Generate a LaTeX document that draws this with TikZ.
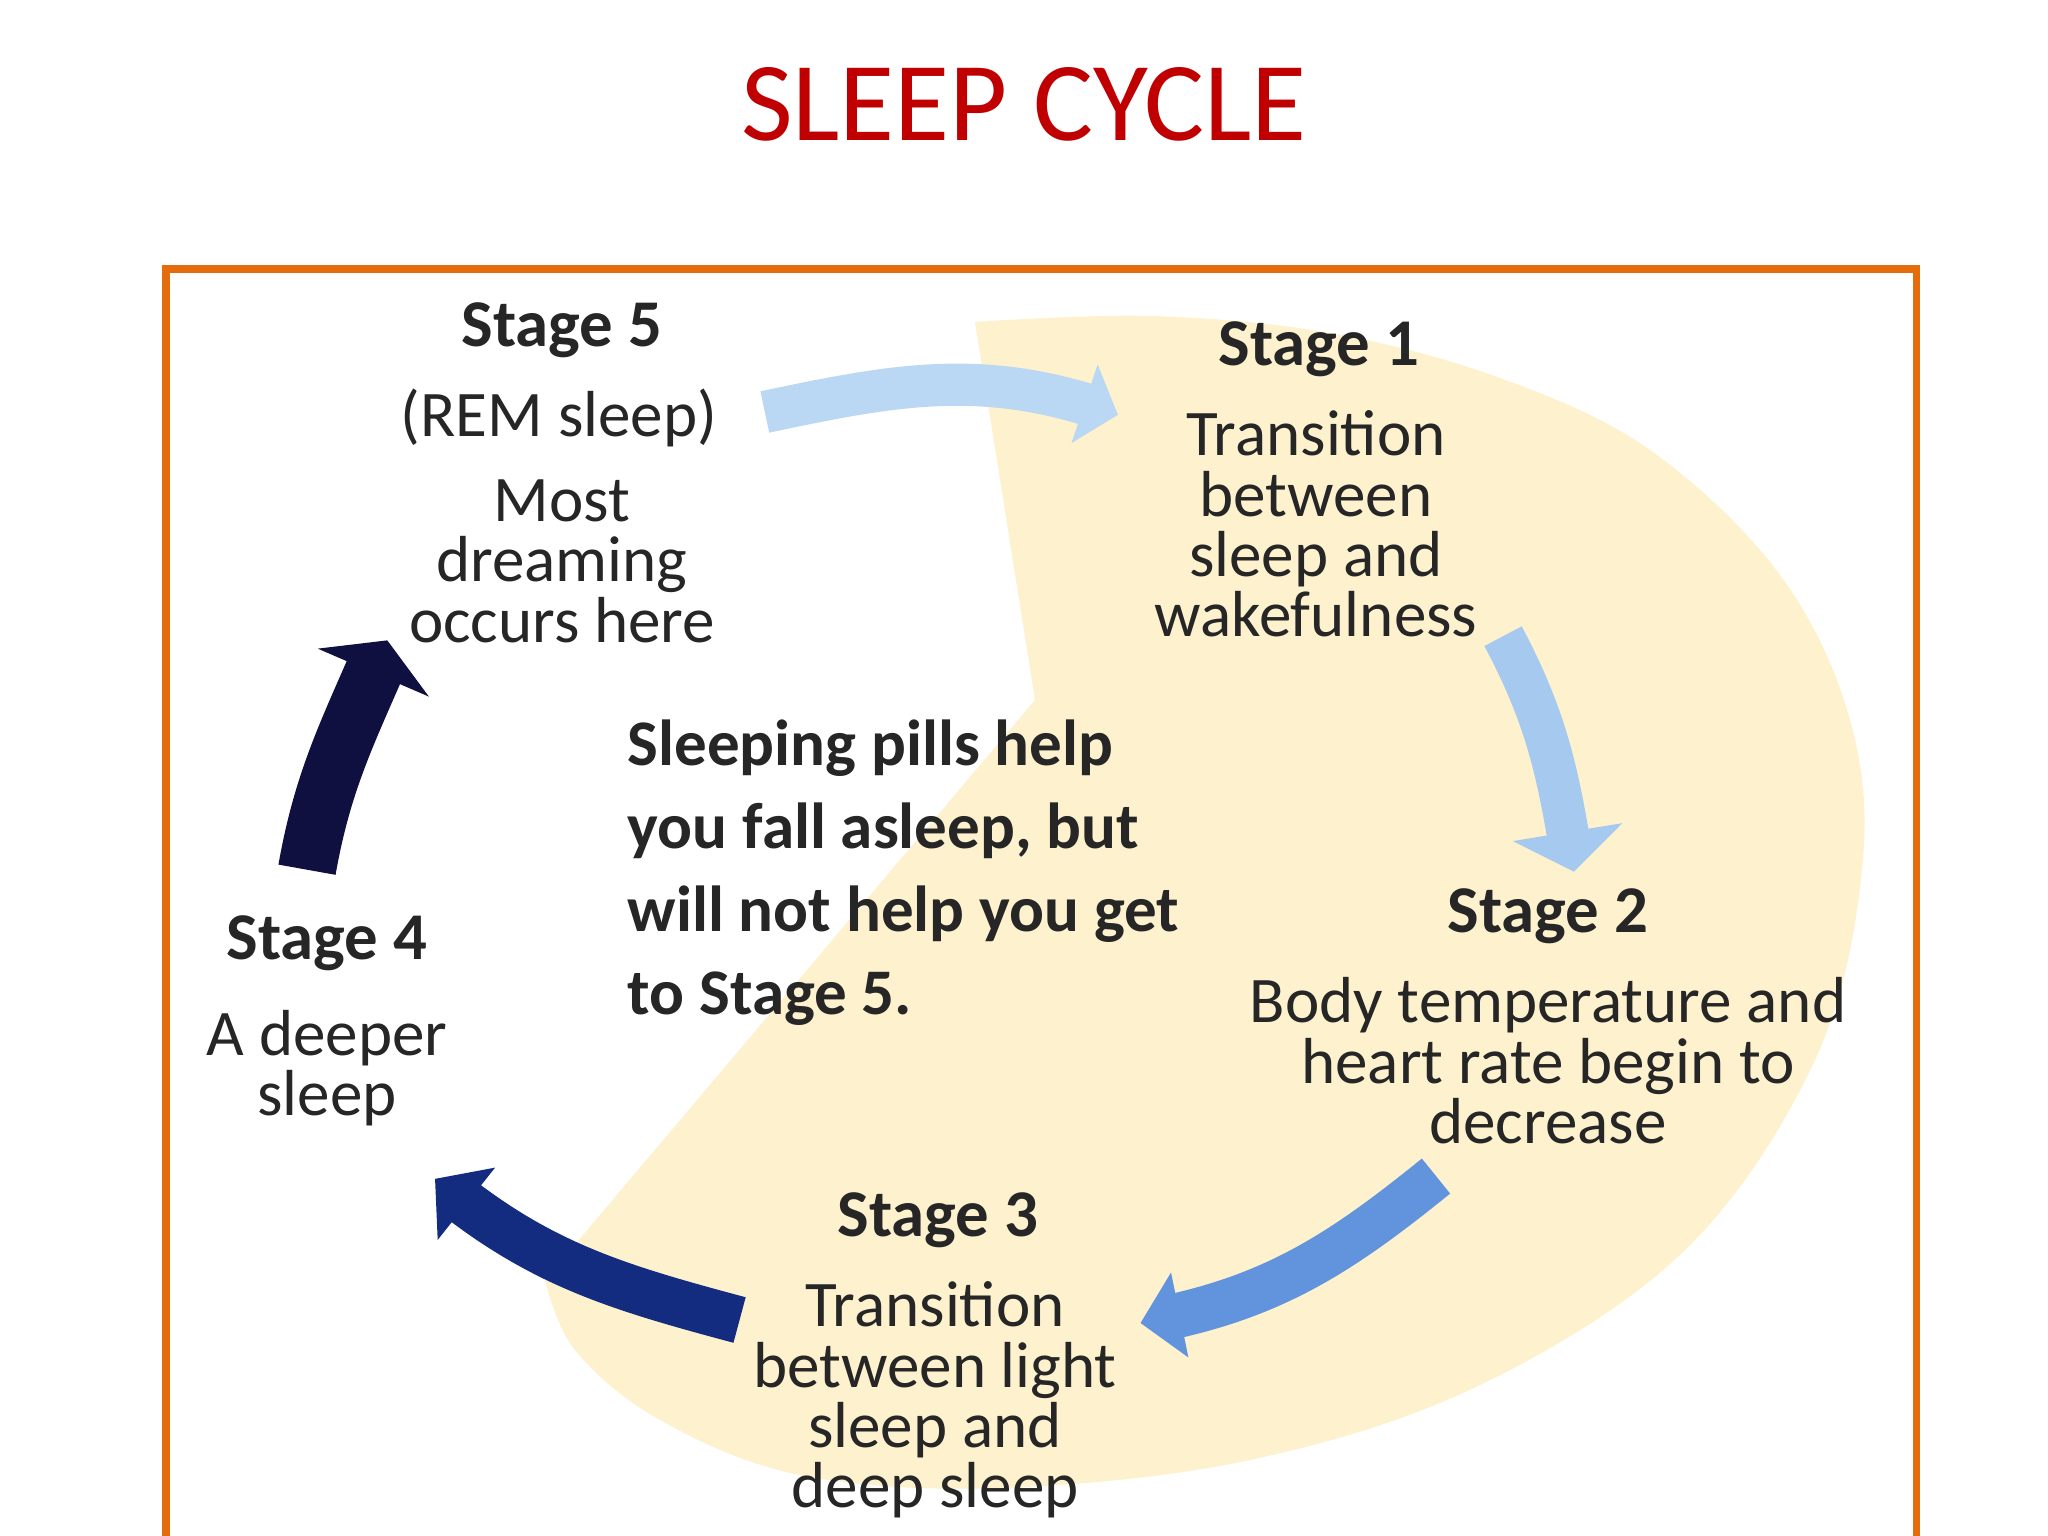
\documentclass[tikz,border=0pt]{standalone}
\usepackage{fontspec}
\setmainfont{Carlito}
\usetikzlibrary{arrows.meta,bending}

\definecolor{framecol}{RGB}{228,108,10}
\definecolor{titlered}{RGB}{192,0,0}
\definecolor{txtgray}{RGB}{38,38,38}
\definecolor{sandbg}{RGB}{253,241,206}
\definecolor{paleblue}{RGB}{186,215,244}
\definecolor{lightblue}{RGB}{166,201,240}
\definecolor{midblue}{RGB}{98,148,222}
\definecolor{navy}{RGB}{20,44,128}
\definecolor{darknavy}{RGB}{16,16,64}

\begin{document}
\begin{tikzpicture}[x=0.01cm, y=-0.01cm,
	head/.style={text=txtgray, inner sep=2pt, font=\fontsize{19}{21}\selectfont\bfseries},
	body/.style={text=txtgray, inner sep=2pt, align=center, font=\fontsize{18.5}{17.2}\selectfont},
	flow/.style n args={3}{line width=#1, -{Triangle[length=#2, width=#3]}}]
	\useasboundingbox (0,0) rectangle (2048,1536);
	\fill [white] (0,0) rectangle (2048,1536);

	% pale disc behind the cycle
	\fill [sandbg] plot [smooth, tension=0.6] coordinates {(975,322) (1150,316) (1330,333)
	  (1500,378) (1650,450) (1780,575) (1850,720) (1862,870) (1815,1060) (1685,1250)
	  (1480,1385) (1250,1460) (1000,1488) (800,1475) (660,1420) (575,1350) (545,1280)}
	  -- (1035,700) -- cycle;
	\draw [framecol, line width=2pt] (166,1600) -- (166,269) -- (1916,269) -- (1916,1600);

	\node at (1024,104) [font=\fontsize{32}{38}\selectfont, text=titlered] (title) {SLEEP CYCLE};

	\node at (562,330) [head] (s5) {Stage 5};
	\node at (559,418) [body] (s5rem) {(REM sleep)};
	\node at (562,561) [body] (s5txt) {Most\\dreaming\\occurs here};

	\node at (1319,349) [head] (s1) {Stage 1};
	\node at (1316,524) [body] (s1txt) {Transition\\between\\sleep and\\wakefulness};

	\node at (1548,916) [head] (s2) {Stage 2};
	\node at (1548,1061) [body] (s2txt) {Body temperature and\\heart rate begin to\\decrease};

	\node at (938,1220) [head] (s3) {Stage 3};
	\node at (935,1400) [body] (s3txt) {Transition\\between light\\sleep and\\deep sleep};

	\node at (327,943) [head] (s4) {Stage 4};
	\node at (327,1068) [body] (s4txt) {A deeper\\sleep};

	\node at (620,873) [anchor=west, text=txtgray, inner sep=2pt, align=left,
	  font=\fontsize{18.5}{23.6}\selectfont\bfseries] (pills)
	  {Sleeping pills help\\you fall asleep, but\\will not help you get\\to Stage 5.};

	% the five curved arrows
	\draw [paleblue, flow={12pt}{10pt}{23pt}]
	  ([shift={(40,-6)}]s5rem.east) to[out=12, in=160] ([shift={(-29,12)}]s1txt.north west);
	\draw [lightblue, flow={12pt}{11.4pt}{31pt}]
	  ([shift={(18,-9)}]s1txt.south east) to[out=-62, in=99] ([shift={(26,-9)}]s2.north);
	\draw [midblue, flow={12.8pt}{11.4pt}{24pt}]
	  ([shift={(-112,24)}]s2txt.south) to[out=219, in=10] ([shift={(16,-77)}]s3txt.east);
	\draw [navy, flow={13.4pt}{11.4pt}{25.6pt}]
	  ([shift={(-6,-80)}]s3txt.west) to[out=165, in=-40] ([shift={(108,45)}]s4txt.south);
	\draw [darknavy, flow={16.5pt}{10pt}{34pt}]
	  ([shift={(-20,-38)}]s4.north) to[out=80, in=247] ([shift={(-14,-10)}]s5txt.south west);
\end{tikzpicture}
\end{document}
